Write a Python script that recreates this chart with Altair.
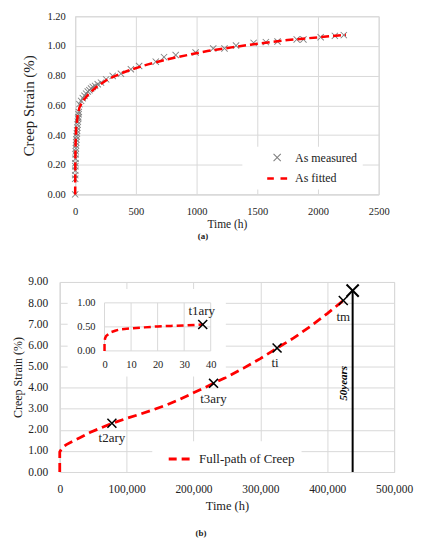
import altair as alt
import pandas as pd

# ---------------- (a) data ----------------
MEAS_T = [0, 0.2, 0.5, 1, 1.5, 2, 3, 4, 5, 6, 7, 8, 10, 12, 14, 16, 18, 20, 22, 24, 26, 28, 30,
          35, 49, 63, 77, 90, 104, 117, 131, 145, 164, 186, 213, 255, 309, 377, 459, 527, 664,
          732, 828, 992, 1137, 1230, 1325, 1470, 1571, 1667, 1825, 1880, 2022, 2139, 2213]
MEAS_S = [0, 0.105, 0.13, 0.16, 0.19, 0.21, 0.24, 0.27, 0.29, 0.31, 0.33, 0.35, 0.37, 0.39, 0.41,
          0.43, 0.45, 0.47, 0.49, 0.51, 0.52, 0.54, 0.555,
          0.608, 0.63, 0.648, 0.664, 0.679, 0.693, 0.702, 0.713, 0.724, 0.731, 0.742, 0.753,
          0.775, 0.798, 0.813, 0.843, 0.865, 0.894, 0.925, 0.939, 0.956, 0.983, 0.983, 1.003,
          1.021, 1.026, 1.030, 1.044, 1.044, 1.059, 1.068, 1.073]
FIT_T = [0, 1, 3, 8, 20, 35, 60, 110, 170, 270, 370, 470, 600, 790, 950, 1090, 1300, 1500,
         1750, 2000, 2230]
FIT_S = [0, 0.2, 0.33, 0.44, 0.53, 0.585, 0.625, 0.675, 0.72, 0.776, 0.813, 0.843, 0.876,
         0.916, 0.943, 0.966, 0.992, 1.015, 1.04, 1.058, 1.075]
SERIES_A = ["As measured", "As fitted"]
XTICKS_A = [0, 500, 1000, 1500, 2000, 2500]
YTICKS_A = [0, 0.2, 0.4, 0.6, 0.8, 1.0, 1.2]

# ---------------- (b) data ----------------
PATH_T = [0, 0, 4000, 10000, 20000, 30000, 45000, 60000, 77000, 100000, 120000, 140000,
          160000, 180000, 200000, 215000, 230000, 250000, 275000, 300000, 325000, 350000,
          375000, 400000, 424000]
PATH_S = [0, 0.95, 1.16, 1.3, 1.47, 1.62, 1.87, 2.07, 2.29, 2.54, 2.74, 2.95, 3.18, 3.45,
          3.75, 3.97, 4.2, 4.5, 4.92, 5.37, 5.87, 6.35, 6.9, 7.5, 8.12]
SERIES_B = "Full-path of Creep"
MARK_NAMES = ["t2ary", "t3ary", "ti", "tm"]
MARK_T = [78000, 230000, 325000, 424000]
MARK_S = [2.31, 4.2, 5.87, 8.12]
Y50_LABEL = ["50years"]
Y50_T = [438000]
Y50_S = [8.59]
XTICKS_B = [0, 100000, 200000, 300000, 400000, 500000]
YTICKS_B = [0, 1, 2, 3, 4, 5, 6, 7, 8, 9]

# inset
INSET_T = [0, 0, 0.2, 0.6, 1.3, 2.5, 4, 6, 10, 15, 20, 25, 30, 37]
INSET_S = [0, 0.15, 0.26, 0.31, 0.34, 0.39, 0.42, 0.45, 0.47, 0.49, 0.51, 0.52, 0.53, 0.55]
T1_NAME = ["t1ary"]
T1_T = [37]
T1_S = [0.55]
XTICKS_I = [0, 10, 20, 30, 40]
YTICKS_I = [0, 0.5, 1.0]
INSET_PANEL_T = [-13.9, 45.7]
INSET_PANEL_S = [-0.53, 1.29]

# ---------------- styles ----------------
FONT = "Liberation Serif"
GRID = "#d9d9d9"
TXT = "#222222"
RED = "#ff0000"
GRAY = "#7f7f7f"
XPATH_A = "M0,-0.2L0.9,-1.1L1.1,-0.9L0.2,0L1.1,0.9L0.9,1.1L0,0.2L-0.9,1.1L-1.1,0.9L-0.2,0L-1.1,-0.9L-0.9,-1.1Z"
XPATH_B = "M0,-0.24L0.88,-1.12L1.12,-0.88L0.24,0L1.12,0.88L0.88,1.12L0,0.24L-0.88,1.12L-1.12,0.88L-0.24,0L-1.12,-0.88L-0.88,-1.12Z"
DASHPATH = "M-2.75,-0.37H-0.92V0.37H-2.75Z M0.92,-0.37H2.75V0.37H0.92Z"

AX_COMMON = dict(labelFont=FONT, titleFont=FONT, labelColor=TXT, titleColor=TXT,
                 titleFontWeight="normal", labelOverlap=False, labelFlush=False)


# ---------------- channel helpers (same scale/axis on every layer) ----------------
def XA(f):
    return alt.X(f, type="quantitative", scale=alt.Scale(domain=[0, 2500], nice=False),
                 axis=alt.Axis(values=XTICKS_A, tickCount=len(XTICKS_A), format="d",
                               title="Time (h)", labelFontSize=10.5, titleFontSize=11.5,
                               labelPadding=12, titlePadding=2, **AX_COMMON))


def YA(f):
    return alt.Y(f, type="quantitative", scale=alt.Scale(domain=[0, 1.2], nice=False),
                 axis=alt.Axis(values=YTICKS_A, tickCount=len(YTICKS_A), format=".2f",
                               title="Creep Strain (%)", labelFontSize=10.5, titleFontSize=15,
                               labelPadding=10, titlePadding=10, **AX_COMMON))


def XB(f):
    return alt.X(f, type="quantitative", scale=alt.Scale(domain=[0, 500000], nice=False),
                 axis=alt.Axis(values=XTICKS_B, tickCount=len(XTICKS_B), format=",.0f",
                               title="Time (h)", labelFontSize=11.5, titleFontSize=12.5,
                               labelPadding=12, titlePadding=4, **AX_COMMON))


def YB(f):
    return alt.Y(f, type="quantitative", scale=alt.Scale(domain=[0, 9], nice=False),
                 axis=alt.Axis(values=YTICKS_B, tickCount=len(YTICKS_B), format=".2f",
                               title="Creep Strain (%)", labelFontSize=11.5, titleFontSize=12,
                               labelPadding=12, titlePadding=3, **AX_COMMON))


def XI(f):
    return alt.X(f, type="quantitative",
                 scale=alt.Scale(domain=[0, 40], range=[45, 151.7], nice=False),
                 axis=alt.Axis(orient="bottom", offset=69.3 - 191, values=XTICKS_I,
                               tickCount=len(XTICKS_I), grid=False, domain=False, ticks=False,
                               labelPadding=9, labelFontSize=10.5, title=None, zindex=1,
                               **AX_COMMON))


def YI(f):
    return alt.Y(f, type="quantitative",
                 scale=alt.Scale(domain=[0, 1], range=[69.3, 21], nice=False),
                 axis=alt.Axis(orient="left", offset=-45, values=YTICKS_I,
                               tickCount=len(YTICKS_I), format=".2f", grid=False, domain=False,
                               ticks=False, labelPadding=9.5, labelFontSize=10.5, title=None,
                               zindex=1, **AX_COMMON))


# ================= chart (a) =================
meas = pd.DataFrame({"t": MEAS_T, "s": MEAS_S, "series": SERIES_A[0]})
fit = pd.DataFrame({"t": FIT_T, "s": FIT_S, "i": list(range(len(FIT_T)))})

leg_a = alt.Legend(title=None, orient="none", legendX=168, legendY=131, fillColor="white",
                   padding=5, symbolOffset=24, symbolSize=53, labelOffset=12, rowPadding=9,
                   labelFont=FONT, labelFontSize=12, labelColor=TXT, symbolStrokeWidth=0)

pts = alt.Chart(meas).mark_point(filled=True, opacity=1, size=40, strokeWidth=0).encode(
    x=XA("t"), y=YA("s"),
    color=alt.Color("series:N", scale=alt.Scale(domain=SERIES_A, range=[GRAY, RED]), legend=leg_a),
    shape=alt.Shape("series:N", scale=alt.Scale(domain=SERIES_A, range=[XPATH_A, DASHPATH]), legend=leg_a),
)
fit_line = alt.Chart(fit).mark_line(color=RED, strokeWidth=2.5, strokeDash=[8, 4]).encode(
    x=XA("t"), y=YA("s"), order="i:Q")

top = alt.layer(pts, fit_line).properties(
    width=305, height=179,
    title=alt.TitleParams("(a)", orient="bottom", anchor="middle", frame="group", fontSize=9,
                          fontWeight="bold", font=FONT, color=TXT, dx=-24, offset=2))

# ================= chart (b) =================
path = pd.DataFrame({"t": PATH_T, "s": PATH_S, "i": list(range(len(PATH_T))), "series": SERIES_B})
mk = pd.DataFrame({"name": MARK_NAMES, "t": MARK_T, "s": MARK_S})
y50 = pd.DataFrame({"name": Y50_LABEL, "t": Y50_T, "s": Y50_S})

leg_b = alt.Legend(title=None, orient="none", legendX=93, legendY=160, fillColor="white",
                   padding=6, symbolType="stroke", symbolSize=441, symbolDash=[8, 5],
                   symbolStrokeWidth=3, symbolOffset=9, labelOffset=8, labelFont=FONT,
                   labelFontSize=13, labelColor=TXT)

main_line = alt.Chart(path).mark_line(strokeWidth=2.8, strokeDash=[9, 5]).encode(
    x=XB("t"), y=YB("s"), order="i:Q",
    color=alt.Color("series:N", scale=alt.Scale(domain=[SERIES_B], range=[RED]), legend=leg_b))

marks = alt.Chart(mk).mark_point(shape=XPATH_B, filled=True, color="black", opacity=1,
                                 size=81, strokeWidth=0).encode(x=XB("t"), y=YB("s"))

LABEL_OFFSETS = {"t2ary": (0, 15), "t3ary": (0, 16), "ti": (-2, 15), "tm": (0, 17)}
label_layers = []
for nm in MARK_NAMES:
    ddx, ddy = LABEL_OFFSETS[nm]
    label_layers.append(
        alt.Chart(mk).transform_filter(alt.datum.name == nm).mark_text(
            dx=ddx, dy=ddy, font=FONT, fontSize=13, color=TXT, baseline="middle", align="center"
        ).encode(x=XB("t"), y=YB("s"), text="name:N"))

rule50 = alt.Chart(y50).transform_calculate(base="0").mark_rule(
    color="black", strokeWidth=2).encode(x=XB("t"), y=YB("base"), y2="s:Q")
m50 = alt.Chart(y50).mark_point(shape=XPATH_B, filled=True, color="black", opacity=1,
                                size=150, strokeWidth=0).encode(x=XB("t"), y=YB("s"))
t50 = alt.Chart(y50).transform_calculate(mid="datum.s / 2").mark_text(
    angle=270, fontStyle="italic", fontWeight="bold", font=FONT, fontSize=11, color="black",
    dy=-9, dx=-2, align="center", baseline="middle").encode(x=XB("t"), y=YB("mid"), text="name:N")

main_layer = alt.layer(main_line, marks, *label_layers, rule50, m50, t50)

# ---- inset ----
ins = pd.DataFrame({"t": INSET_T, "s": INSET_S, "i": list(range(len(INSET_T)))})
t1 = pd.DataFrame({"name": T1_NAME, "t": T1_T, "s": T1_S})
panel = pd.DataFrame({"t": [INSET_PANEL_T[0]], "t1": [INSET_PANEL_T[1]],
                      "s": [INSET_PANEL_S[0]], "s1": [INSET_PANEL_S[1]]})
gx = pd.DataFrame({"t": XTICKS_I})
gy = pd.DataFrame({"s": YTICKS_I})

panel_rect = alt.Chart(panel).mark_rect(fill="white").encode(
    x=XI("t"), x2="t1:Q", y=YI("s"), y2="s1:Q")
grid_v = alt.Chart(gx).transform_calculate(lo="0", hi="1").mark_rule(
    color=GRID, strokeWidth=1).encode(x=XI("t"), y=YI("lo"), y2="hi:Q")
grid_h = alt.Chart(gy).transform_calculate(lo="0", hi="40").mark_rule(
    color=GRID, strokeWidth=1).encode(y=YI("s"), x=XI("lo"), x2="hi:Q")
ins_line = alt.Chart(ins).mark_line(color=RED, strokeWidth=2.5, strokeDash=[7, 4]).encode(
    x=XI("t"), y=YI("s"), order="i:Q")
t1_mark = alt.Chart(t1).mark_point(shape=XPATH_B, filled=True, color="black", opacity=1,
                                   size=81, strokeWidth=0).encode(x=XI("t"), y=YI("s"))
t1_text = alt.Chart(t1).mark_text(dx=-1, dy=-13.5, font=FONT, fontSize=13, color=TXT,
                                  baseline="middle", align="center").encode(
    x=XI("t"), y=YI("s"), text="name:N")

inset_layer = alt.layer(panel_rect, grid_v, grid_h, ins_line, t1_mark, t1_text)

bottom = alt.layer(main_layer, inset_layer).resolve_scale(
    x="independent", y="independent").properties(
    width=336, height=191,
    title=alt.TitleParams("(b)", orient="bottom", anchor="middle", frame="group", fontSize=9,
                          fontWeight="bold", font=FONT, color=TXT, dx=-26, offset=17))

chart = alt.vconcat(top, bottom, spacing=88, center=True, bounds="flush").resolve_scale(
    color="independent", shape="independent"
).resolve_legend(color="independent", shape="independent").properties(
    padding={"left": 3, "top": 1, "right": 0, "bottom": 0}
).configure_view(stroke=GRID).configure_axis(
    gridColor=GRID, domainColor=GRID, ticks=False, tickSize=0, labelFont=FONT, titleFont=FONT,
    labelColor=TXT, titleColor=TXT, titleFontWeight="normal", labelOverlap=False
).configure_legend(labelFont=FONT, labelColor=TXT).configure_title(font=FONT)

chart.save("out.html", embed_options={"renderer": "svg", "actions": False})
